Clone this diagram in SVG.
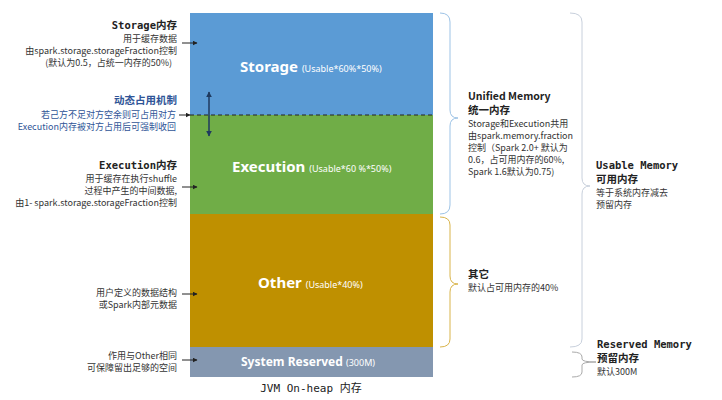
<svg xmlns="http://www.w3.org/2000/svg" width="722" height="400" viewBox="0 0 722 400">
<style>
.t{font-family:"Noto Sans CJK SC","Noto Sans",sans-serif;font-size:9px;fill:#333}
.m{font-family:"DejaVu Sans Mono","Noto Sans CJK SC",monospace;font-size:10.5px;font-weight:bold;fill:#222}
.b{font-family:"Noto Sans CJK SC","Noto Sans",sans-serif;font-size:10.5px;font-weight:bold;fill:#222}
.blk{font-family:"Noto Sans","Noto Sans CJK SC",sans-serif;fill:#fff;font-weight:bold}
.sm{font-family:"Noto Sans",sans-serif;font-size:9px;fill:#fff;font-weight:normal}
.br{fill:none;stroke-width:1}
</style>
<defs>
<marker id="a" viewBox="0 0 10 10" refX="9" refY="5" markerWidth="5" markerHeight="5" orient="auto-start-reverse"><path d="M0 0L10 5L0 10z" fill="#222"/></marker>
<marker id="d" viewBox="0 0 10 10" refX="9" refY="5" markerWidth="4" markerHeight="4" orient="auto-start-reverse"><path d="M0 0L10 5L0 10z" fill="#1f3a5f"/></marker>
</defs>
<rect width="722" height="400" fill="#fff"/>
<g id="storage"><rect x="190" y="13" width="243" height="102" fill="#5b9bd5"/><text x="240" y="72" class="blk" font-size="15">Storage <tspan class="sm">(Usable*60%*50%)</tspan></text></g>
<g id="execution"><rect x="190" y="115" width="243" height="99" fill="#70ad47"/><text x="232" y="172" class="blk" font-size="15">Execution <tspan class="sm">(Usable*60 %*50%)</tspan></text></g>
<g id="other"><rect x="190" y="214" width="243" height="133" fill="#bf9000"/><text x="258" y="288" class="blk" font-size="15">Other <tspan class="sm">(Usable*40%)</tspan></text></g>
<g id="reserved"><rect x="190" y="347" width="243" height="30" fill="#8497b0"/><text x="241" y="366" class="blk" font-size="12">System Reserved <tspan class="sm">(300M)</tspan></text></g>
<text x="311" y="392" text-anchor="middle" font-family="DejaVu Sans Mono,Noto Sans CJK SC,monospace" font-size="11" fill="#222">JVM On-heap 内存</text>
<g id="connectors">
<line x1="190" y1="115" x2="433" y2="115" stroke="#222" stroke-dasharray="4,3"/>
<line x1="209" y1="92" x2="209" y2="136" stroke="#1f3a5f" stroke-width="1.5" marker-start="url(#d)" marker-end="url(#d)"/>
<line x1="182" y1="43" x2="197" y2="43" stroke="#222" marker-end="url(#a)"/>
<line x1="179" y1="115" x2="190" y2="115" stroke="#222" marker-end="url(#a)"/>
<line x1="182" y1="187" x2="197" y2="187" stroke="#222" marker-end="url(#a)"/>
<line x1="182" y1="294" x2="197" y2="294" stroke="#222" marker-end="url(#a)"/>
<line x1="182" y1="360" x2="197" y2="360" stroke="#222" marker-end="url(#a)"/>
<path class="br" stroke="#9dc3e6" d="M440 13 Q450 13 450 22 V110 Q450 118 458 118 Q450 118 450 126 V205 Q450 214 440 214"/>
<path class="br" stroke="#d9b44a" d="M440 217 Q450 217 450 225 V276 Q450 284 458 284 Q450 284 450 292 V339 Q450 347 440 347"/>
<path class="br" stroke="#c8d0dc" d="M570 13 Q582 13 582 22 V178 Q582 186 590 186 Q582 186 582 194 V339 Q582 347 570 347"/>
<path class="br" stroke="#aaa" d="M572 352 Q582 352 582 357 V359 Q582 362 596 362 Q582 362 582 365 V372 Q582 377 572 377"/>
</g>
<g id="labels-left" text-anchor="end">
<text x="177" y="29" class="m">Storage内存</text>
<text x="177" y="42" class="t">用于缓存数据</text>
<text x="177" y="54" class="t">由spark.storage.storageFraction控制</text>
<text x="172" y="66" class="t">(默认为0.5，占统一内存的50%)</text>
<text x="177" y="104" class="b" style="fill:#2f5597">动态占用机制</text>
<text x="176" y="118" class="t" style="fill:#2f5597">若己方不足对方空余则可占用对方</text>
<text x="176" y="130" class="t" style="fill:#2f5597">Execution内存被对方占用后可强制收回</text>
<text x="177" y="169" class="m">Execution内存</text>
<text x="177" y="182" class="t">用于缓存在执行shuffle</text>
<text x="177" y="194" class="t">过程中产生的中间数据,</text>
<text x="177" y="206" class="t">由1- spark.storage.storageFraction控制</text>
<text x="177" y="296" class="t">用户定义的数据结构</text>
<text x="177" y="308" class="t">或Spark内部元数据</text>
<text x="177" y="359" class="t">作用与Other相同</text>
<text x="177" y="371" class="t">可保障留出足够的空间</text>
</g>
<g id="labels-right">
<text x="468" y="100" class="b">Unified Memory</text>
<text x="468" y="114" class="b">统一内存</text>
<text x="468" y="127" class="t">Storage和Execution共用</text>
<text x="468" y="139" class="t">由spark.memory.fraction</text>
<text x="468" y="151" class="t">控制（Spark 2.0+ 默认为</text>
<text x="468" y="163" class="t">0.6，占可用内存的60%,</text>
<text x="468" y="175" class="t">Spark 1.6默认为0.75)</text>
<text x="468" y="278" class="b">其它</text>
<text x="468" y="291" class="t">默认占可用内存的40%</text>
<text x="596" y="169" class="m">Usable Memory</text>
<text x="596" y="183" class="b">可用内存</text>
<text x="596" y="196" class="t">等于系统内存减去</text>
<text x="596" y="208" class="t">预留内存</text>
<text x="597" y="348" class="m">Reserved Memory</text>
<text x="597" y="362" class="b">预留内存</text>
<text x="597" y="375" class="t">默认300M</text>
</g>
</svg>
